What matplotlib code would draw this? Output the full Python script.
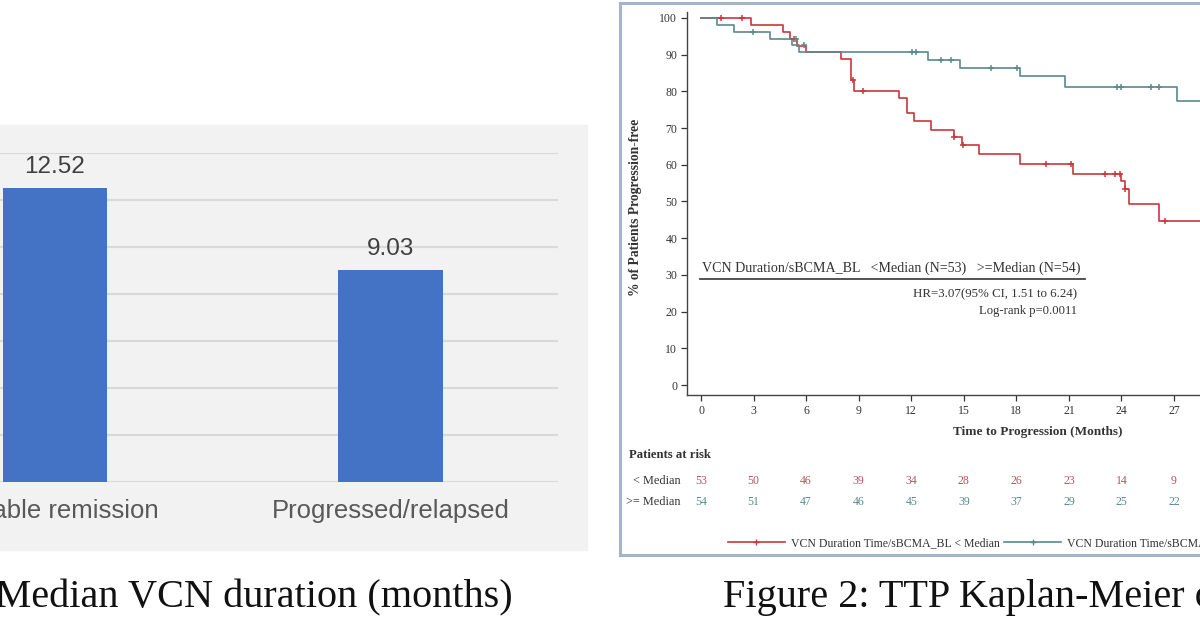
import numpy as np
import matplotlib
matplotlib.use('Agg')
import matplotlib.pyplot as plt
from matplotlib.patches import Rectangle
from matplotlib.lines import Line2D
import matplotlib.transforms as mtransforms

# ---- left panel: median VCN duration ----
categories = ['Durable remission', 'Progressed/relapsed']
median_months = [12.52, 9.03]

# ---- right panel: KM curves (months, % progression-free) ----
low_t = [0, 2.87, 4.68, 5.1, 5.5, 6.0, 8.0, 8.55, 8.75, 11.29, 11.73, 12.16, 13.14,
         14.46, 14.89, 15.88, 18.2, 21.23, 24.0, 24.2, 24.4, 26.15, 31]
low_s = [100, 98.1, 96.2, 94.3, 92.5, 90.6, 88.7, 83.0, 80.2, 78.1, 74.2, 71.9, 69.6,
         67.6, 65.5, 62.9, 60.3, 57.6, 55.5, 53.4, 49.2, 44.7, 44.7]
low_cens_t = [1.12, 2.36, 5.3, 8.66, 9.27, 14.46, 14.95, 19.7, 21.1, 23.05, 23.64, 23.9, 24.2, 26.5]
low_cens_s = [100, 100, 94.3, 83.0, 80.2, 67.6, 65.5, 60.3, 60.3, 57.6, 57.6, 57.6, 53.4, 44.7]

high_t = [0, 0.9, 1.88, 3.96, 5.2, 5.6, 12.93, 14.78, 18.2, 20.8, 27.14, 31]
high_s = [100, 98.1, 96.3, 94.4, 92.6, 90.7, 88.6, 86.5, 84.1, 81.2, 77.4, 77.4]
high_cens_t = [2.98, 5.4, 5.9, 12.05, 12.27, 13.69, 14.24, 16.54, 18.06, 23.75, 24.0, 25.7, 26.15]
high_cens_s = [96.3, 94.4, 92.6, 90.7, 90.7, 88.6, 88.6, 86.5, 86.5, 81.2, 81.2, 81.2, 81.2]

risk_times = [0, 3, 6, 9, 12, 15, 18, 21, 24, 27]
risk_low = [53, 50, 46, 39, 34, 28, 26, 23, 14, 9]
risk_high = [54, 51, 47, 46, 45, 39, 37, 29, 25, 22]

W, H = 1200, 629
def fx(px):
    return px / W
def fy(py):
    return 1 - py / H

fig = plt.figure(figsize=(12, 6.29), dpi=100)

# gray chart area behind the bars
fig.add_artist(Rectangle((fx(-20), fy(550)), fx(607), (550 - 125) / H,
                         transform=fig.transFigure, color='#f2f2f2', zorder=0))

ax1 = fig.add_axes([fx(-112.75), fy(482), (558.25 + 112.75) / W, (482 - 153) / H])
ax1.set_facecolor('none')
x = np.arange(len(categories))
bars = ax1.bar(x, median_months, width=0.31, color='#4472c4', zorder=3)
ax1.bar_label(bars, labels=['%.2f' % v for v in median_months], padding=7,
              fontsize=17.5, color='#404040', family='Liberation Sans')
ax1.set_xlim(-0.5, 1.5)
ax1.set_ylim(0, 14)
ax1.set_yticks(np.arange(0, 15, 2))
ax1.yaxis.grid(True, color='#d9d9d9', lw=1.5, zorder=0)
ax1.set_xticks(x)
ax1.set_xticklabels(categories, fontsize=18.5, color='#595959', family='Liberation Sans')
ax1.tick_params(axis='x', length=0, pad=12)
ax1.tick_params(axis='y', length=0, labelleft=False)
for s in ax1.spines.values():
    s.set_visible(False)

# ---- right panel frame ----
fig.add_artist(Rectangle((fx(620), fy(555)), fx(620), (555 - 3) / H,
                         transform=fig.transFigure, facecolor='white',
                         edgecolor='#a5b4c8', lw=2.2, zorder=0))

serif = 'Liberation Serif'
tc = '#333333'
red = '#c8383d'
teal = '#5a8a8c'

ax2 = fig.add_axes([fx(687), fy(395), (1320 - 687) / W, (395 - 12) / H])
ax2.set_facecolor('none')
ax2.step(low_t, low_s, where='post', color=red, lw=1.2)
ax2.step(high_t, high_s, where='post', color=teal, lw=1.2)
ax2.plot(low_cens_t, low_cens_s, '+', color=red, ms=5, mew=1.1)
ax2.plot(high_cens_t, high_cens_s, '+', color=teal, ms=5, mew=1.1)
ax2.set_xlim(-0.8, -0.8 + (1320 - 687) / 17.52)
ax2.set_ylim((385 - 395) / 3.67, (385 - 12) / 3.67)
ax2.set_xticks(np.arange(0, 28, 3))
ax2.set_yticks(np.arange(0, 101, 10))
ax2.tick_params(length=4, width=0.9, pad=3, labelsize=8.5, colors=tc)
for lab in ax2.get_xticklabels() + ax2.get_yticklabels():
    lab.set_family(serif)
ax2.spines['top'].set_visible(False)
ax2.spines['right'].set_visible(False)
for s in ['left', 'bottom']:
    ax2.spines[s].set_color('#444444')
    ax2.spines[s].set_linewidth(1.0)

fig.text(fx(635), fy(207), '% of Patients Progression-free', rotation=90, ha='center',
         va='center', fontsize=9.8, fontweight='bold', family=serif, color=tc)
fig.text(fx(1038), fy(432), 'Time to Progression (Months)', ha='center', va='center',
         fontsize=9.5, fontweight='bold', family=serif, color=tc)

# annotation block
fig.text(fx(702), fy(268), 'VCN Duration/sBCMA_BL   <Median (N=53)   >=Median (N=54)',
         ha='left', va='center', fontsize=10.1, family=serif, color=tc)
fig.add_artist(Line2D([fx(700), fx(1085)], [fy(279), fy(279)], transform=fig.transFigure,
                      color='#444444', lw=1.3))
fig.text(fx(1077), fy(294), 'HR=3.07(95% CI, 1.51 to 6.24)', ha='right', va='center',
         fontsize=9.3, family=serif, color=tc)
fig.text(fx(1077), fy(311), 'Log-rank p=0.0011', ha='right', va='center',
         fontsize=9.1, family=serif, color=tc)

# patients at risk table
fig.text(fx(629), fy(455), 'Patients at risk', ha='left', va='center', fontsize=9.2,
         fontweight='bold', family=serif, color=tc)
fig.text(fx(681), fy(481), '< Median', ha='right', va='center', fontsize=8.8,
         family=serif, color=tc)
fig.text(fx(681), fy(502), '>= Median', ha='right', va='center', fontsize=8.8,
         family=serif, color=tc)
blend = mtransforms.blended_transform_factory(ax2.transData, fig.transFigure)
for t, a, b in zip(risk_times, risk_low, risk_high):
    ax2.text(t, fy(481), str(a), transform=blend, ha='center', va='center',
             fontsize=8.5, family=serif, color='#b2555a', clip_on=False)
    ax2.text(t, fy(502), str(b), transform=blend, ha='center', va='center',
             fontsize=8.5, family=serif, color=teal, clip_on=False)

handles = [Line2D([], [], color=red, lw=1.2, marker='+', ms=5),
           Line2D([], [], color=teal, lw=1.2, marker='+', ms=5)]
fig.legend(handles, ['VCN Duration Time/sBCMA_BL < Median',
                     'VCN Duration Time/sBCMA_BL >= Median'],
           loc='center left', bbox_to_anchor=(fx(728), fy(543)), ncol=2, frameon=False,
           prop={'family': serif, 'size': 8.5}, handlelength=4.8, handletextpad=0.5,
           columnspacing=0.4, borderpad=0, borderaxespad=0, labelcolor=tc)

# captions
fig.text(fx(513), fy(597), 'Figure 1: Median VCN duration (months)', ha='right',
         va='center', fontsize=29, family=serif, color='#111111')
fig.text(fx(723), fy(597), 'Figure 2: TTP Kaplan-Meier curves', ha='left',
         va='center', fontsize=29, family=serif, color='#111111')

fig.savefig('out.png', dpi=100)
